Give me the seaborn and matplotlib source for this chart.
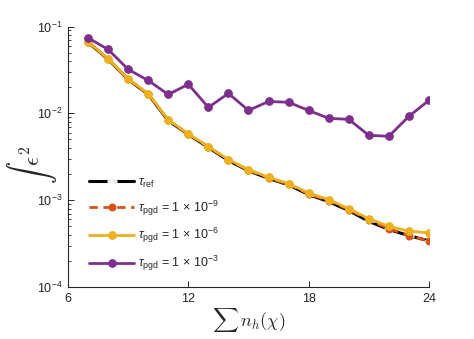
import matplotlib
matplotlib.use("Agg")
import matplotlib.pyplot as plt
import seaborn as sns
import pandas as pd
from matplotlib.ticker import LogLocator, FixedLocator, NullFormatter

sns.set_theme(style="white")
plt.rcParams["font.family"] = ["Liberation Sans", "DejaVu Sans"]
plt.rcParams["mathtext.fontset"] = "custom"
plt.rcParams["mathtext.rm"] = "Liberation Sans"
plt.rcParams["mathtext.it"] = "Liberation Sans:italic"
plt.rcParams["mathtext.bf"] = "Liberation Sans:bold"

# Total number of basis functions
n_total = list(range(7, 25))

# Integrated squared error for each tolerance
err_ref = [0.0660, 0.0418, 0.0246, 0.0165, 0.00825, 0.00570, 0.00405, 0.00286,
           0.00218, 0.00178, 0.00150, 0.00116, 0.00096, 0.00076, 0.00057,
           0.00046, 0.00039, 0.00034]
err_1e9 = [0.0664, 0.0420, 0.0247, 0.0166, 0.00830, 0.00575, 0.00410, 0.00290,
           0.00220, 0.00180, 0.00152, 0.00118, 0.00098, 0.00078, 0.00059,
           0.00047, 0.00039, 0.00034]
err_1e6 = [0.0669, 0.0422, 0.0249, 0.0168, 0.00841, 0.00581, 0.00415, 0.00294,
           0.00224, 0.00184, 0.00155, 0.00121, 0.00101, 0.00080, 0.00061,
           0.00050, 0.00044, 0.00042]
err_1e3 = [0.0740, 0.0544, 0.0321, 0.0239, 0.0165, 0.0216, 0.0117, 0.0170,
           0.0108, 0.0137, 0.0134, 0.0108, 0.00876, 0.00853, 0.00558,
           0.00544, 0.00925, 0.0141]

labels = [r"$\tau_{\rm ref}$",
          r"$\tau_{\rm pgd}$ = 1 $\times$ 10$^{-9}$",
          r"$\tau_{\rm pgd}$ = 1 $\times$ 10$^{-6}$",
          r"$\tau_{\rm pgd}$ = 1 $\times$ 10$^{-3}$"]

black = "#000000"
orange = "#D95319"
yellow = "#EDB120"
purple = "#7E2F8E"

fig = plt.figure(figsize=(4.74, 3.39), dpi=100)
ax = fig.add_axes([0.1435, 0.1534, 0.7615, 0.7684])

df_ref = pd.DataFrame({"n": n_total, "e": err_ref})
df_9 = pd.DataFrame({"n": n_total, "e": err_1e9})
df_6 = pd.DataFrame({"n": n_total, "e": err_1e6})
df_3 = pd.DataFrame({"n": n_total, "e": err_1e3})

sns.lineplot(data=df_ref, x="n", y="e", ax=ax, color=black, lw=2.2,
             marker="+", markersize=7, markeredgewidth=2, label=labels[0],
             zorder=2)
sns.lineplot(data=df_9, x="n", y="e", ax=ax, color=orange, lw=2.0,
             linestyle=(0, (3, 2)), marker="o", markersize=5,
             markeredgecolor=orange, label=labels[1], zorder=3)
sns.lineplot(data=df_6, x="n", y="e", ax=ax, color=yellow, lw=2.0,
             marker="o", markersize=5.5, markeredgecolor=yellow,
             label=labels[2], zorder=4)
sns.lineplot(data=df_3, x="n", y="e", ax=ax, color=purple, lw=2.0,
             marker="o", markersize=5.5, markeredgecolor=purple,
             label=labels[3], zorder=5)

ax.set_yscale("log")
ax.set_ylim(1e-4, 1e-1)
ax.set_xlim(6, 24)
ax.xaxis.set_major_locator(FixedLocator([6, 12, 18, 24]))
ax.yaxis.set_major_locator(LogLocator(base=10, numticks=10))
ax.yaxis.set_minor_locator(LogLocator(base=10, subs=range(2, 10), numticks=20))
ax.yaxis.set_minor_formatter(NullFormatter())

for side in ("top", "right"):
    ax.spines[side].set_visible(False)
for side in ("left", "bottom"):
    ax.spines[side].set_color("#262626")
    ax.spines[side].set_linewidth(0.8)

ax.tick_params(axis="both", which="major", direction="in", length=4,
               width=0.7, labelsize=9, colors="#262626", pad=4)
ax.tick_params(axis="y", which="minor", direction="in", length=2.2,
               width=0.6, left=True, colors="#262626")
ax.tick_params(axis="x", which="both", bottom=True)
ax.tick_params(axis="y", which="major", left=True)

ax.set_xlabel(r"$\sum\, n_h(\chi)$", fontsize=13, math_fontfamily="cm",
              labelpad=1)
ax.set_ylabel(r"$\int\ \epsilon^2$", fontsize=16, math_fontfamily="cm",
              va="center", ha="center")
ax.yaxis.set_label_coords(-0.10, 0.47)

leg = ax.legend(loc="lower left", bbox_to_anchor=(0.035, 0.02), frameon=False,
                fontsize=9, handlelength=3.6, labelspacing=0.68,
                handletextpad=0.3, borderaxespad=0.3)

fig.savefig("out.png", dpi=100, facecolor="white")
